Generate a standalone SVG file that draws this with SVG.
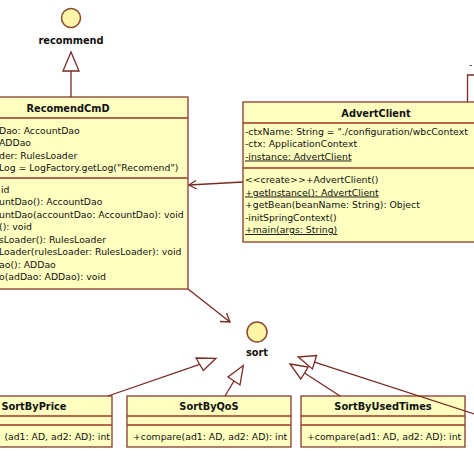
<svg xmlns="http://www.w3.org/2000/svg" width="474" height="474" viewBox="0 0 474 474">
<style>
.box{fill:#FFFFC0;stroke:#8A3A2C;stroke-width:1.3}
.sep{stroke:#A0342A;stroke-width:1.3}
.ic{fill:#FFF5A6;stroke:#8A4A2C;stroke-width:1.5}
.t{font-family:"DejaVu Sans",Verdana,sans-serif;font-size:9.3px;fill:#111}
.b{font-family:"DejaVu Sans",Verdana,sans-serif;font-size:9.8px;font-weight:bold;fill:#111}
.u{text-decoration:underline}
.c{fill:none;stroke:#7A2A24;stroke-width:1.3}
.tri{fill:#fff;stroke:#7A2A24;stroke-width:1.3}
</style>
<rect width="474" height="474" fill="#fff"/>
<g id="recommend">
<circle class="ic" cx="71" cy="18" r="9.5"/>
<text class="b" x="71" y="44" text-anchor="middle">recommend</text>
</g>
<g id="sort">
<circle class="ic" cx="257" cy="332" r="10"/>
<text class="b" x="257" y="356" text-anchor="middle">sort</text>
</g>
<g id="RecomendCmD">
<rect class="box" x="-60" y="97" width="248" height="192"/>
<line class="sep" x1="-60" y1="118" x2="188" y2="118"/>
<line class="sep" x1="-60" y1="178" x2="188" y2="178"/>
<text class="b" x="68" y="111.5" text-anchor="middle">RecomendCmD</text>
<text class="t" x="-1" y="133.5">Dao: AccountDao</text>
<text class="t" x="-1" y="146">ADDao</text>
<text class="t" x="-1" y="158.5">der: RulesLoader</text>
<text class="t" x="-1" y="171">Log = LogFactory.getLog("Recomend")</text>
<text class="t" x="1" y="192.5">id</text>
<text class="t" x="-1" y="205">untDao(): AccountDao</text>
<text class="t" x="-1" y="217.5">untDao(accountDao: AccountDao): void</text>
<text class="t" x="-1" y="230">(): void</text>
<text class="t" x="-1" y="242.5">sLoader(): RulesLoader</text>
<text class="t" x="-1" y="255">Loader(rulesLoader: RulesLoader): void</text>
<text class="t" x="-1" y="267.5">ao(): ADDao</text>
<text class="t" x="-1" y="280">o(adDao: ADDao): void</text>
</g>
<g id="AdvertClient">
<rect class="box" x="243" y="102" width="267" height="140"/>
<line class="sep" x1="243" y1="123" x2="510" y2="123"/>
<line class="sep" x1="243" y1="168" x2="510" y2="168"/>
<text class="b" x="376" y="116.5" text-anchor="middle">AdvertClient</text>
<text class="t" x="245" y="134.5">-ctxName: String = "./configuration/wbcContext</text>
<text class="t" x="245" y="147">-ctx: ApplicationContext</text>
<text class="t u" x="245" y="159.5">-instance: AdvertClient</text>
<text class="t" x="245" y="183">&lt;&lt;create&gt;&gt;+AdvertClient()</text>
<text class="t u" x="245" y="195.5">+getInstance(): AdvertClient</text>
<text class="t" x="245" y="208">+getBean(beanName: String): Object</text>
<text class="t" x="245" y="220.5">-initSpringContext()</text>
<text class="t u" x="245" y="233">+main(args: String)</text>
</g>
<g id="SortByPrice">
<rect class="box" x="-60" y="396" width="172" height="51"/>
<line class="sep" x1="-60" y1="416" x2="112" y2="416"/>
<line class="sep" x1="-60" y1="425" x2="112" y2="425"/>
<text class="b" x="1.5" y="409.5">SortByPrice</text>
<text class="t" x="110" y="439.5" text-anchor="end">(ad1: AD, ad2: AD): int</text>
</g>
<g id="SortByQoS">
<rect class="box" x="127" y="396" width="164" height="51"/>
<line class="sep" x1="127" y1="416" x2="291" y2="416"/>
<line class="sep" x1="127" y1="425" x2="291" y2="425"/>
<text class="b" x="209" y="409.5" text-anchor="middle">SortByQoS</text>
<text class="t" x="133" y="439.5">+compare(ad1: AD, ad2: AD): int</text>
</g>
<g id="SortByUsedTimes">
<rect class="box" x="301" y="396" width="164" height="51"/>
<line class="sep" x1="301" y1="416" x2="465" y2="416"/>
<line class="sep" x1="301" y1="425" x2="465" y2="425"/>
<text class="b" x="383" y="409.5" text-anchor="middle">SortByUsedTimes</text>
<text class="t" x="307" y="439.5">+compare(ad1: AD, ad2: AD): int</text>
</g>
<g id="connectors">
<line class="c" x1="71" y1="97" x2="71" y2="71"/>
<polygon class="tri" points="71,52 63,71 79,71"/>
<line class="c" x1="243" y1="182" x2="189" y2="185"/>
<polyline class="c" points="196,180.5 189,185 196.5,189"/>
<line class="c" x1="188" y1="289" x2="230" y2="322"/>
<polyline class="c" points="220,321.5 230,322 226.5,313"/>
<line class="c" x1="108" y1="396" x2="199.7" y2="364.3"/>
<polygon class="tri" points="216,358.3 196,358 203.3,370.5"/>
<line class="c" x1="225" y1="396" x2="234" y2="381"/>
<polygon class="tri" points="243.3,365.5 228,377 240,385"/>
<line class="c" x1="340" y1="396" x2="304.5" y2="373"/>
<polygon class="tri" points="290,364 308.2,367 300.8,379"/>
<line class="c" x1="476" y1="414.5" x2="314.5" y2="362.2"/>
<polygon class="tri" points="298.3,357 316.6,355.5 312.4,368.9"/>
<polyline class="c" points="467.5,102 467.5,75 480,75"/>
<text class="t" x="469" y="68">-</text>
</g>
</svg>
